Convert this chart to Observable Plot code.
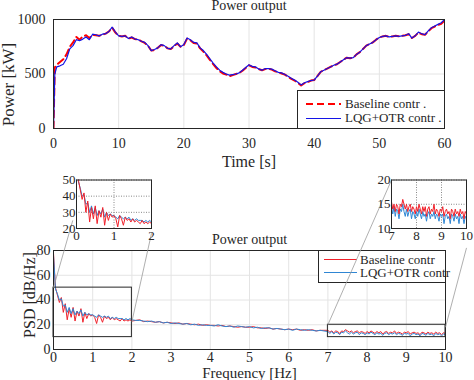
<!DOCTYPE html>
<html><head><meta charset="utf-8">
<script src="https://cdn.jsdelivr.net/npm/d3@7"></script>
<script src="https://cdn.jsdelivr.net/npm/@observablehq/plot@0.6"></script>
<style>
body{margin:0;background:#fff;}
#chart{position:relative;width:474px;height:380px;overflow:hidden;background:#fff;font-family:"Liberation Serif","Times New Roman",serif;}
#chart > svg{position:absolute;}
.legend{position:absolute;background:#fff;border:1px solid #262626;box-sizing:border-box;}
.legend svg{position:absolute;left:0;top:0;overflow:visible;}
</style></head><body><div id="chart"></div>
<script>
// ---------- top panel: power output time series ----------
const timeS = [0, 0.2, ...d3.range(1, 121).map(i => i * 0.5)];
const powerLQG = [0, 500,
 565, 575, 590, 640, 730, 760, 815, 805, 820, 840,
 815, 865, 860, 850, 865, 870, 890, 930, 885, 850,
 845, 850, 825, 840, 820, 815, 800, 790, 760, 715,
 725, 740, 770, 760, 735, 730, 760, 785, 750, 770,
 830, 815, 790, 785, 740, 715, 680, 640, 600, 565,
 535, 515, 500, 490, 495, 500, 510, 535, 560, 585,
 570, 565, 545, 535, 550, 550, 545, 530, 515, 510,
 495, 480, 460, 445, 425, 400, 420, 430, 440, 445,
 480, 520, 535, 550, 565, 580, 590, 610, 630, 650,
 645, 650, 680, 700, 730, 760, 775, 790, 815, 835,
 845, 850, 840, 845, 850, 845, 850, 855, 870, 830,
 850, 885, 870, 860, 895, 925, 940, 955, 970, 1000];
const powerBase = [0, 560,
 585, 610, 635, 680, 750, 790, 840, 815, 845, 855,
 830, 860, 855, 850, 860, 870, 890, 925, 880, 850,
 845, 850, 825, 835, 820, 815, 800, 785, 760, 715,
 720, 740, 765, 760, 735, 730, 755, 780, 750, 765,
 825, 810, 785, 780, 735, 705, 670, 630, 590, 555,
 525, 505, 495, 480, 490, 500, 510, 530, 555, 580,
 565, 560, 545, 535, 545, 550, 540, 525, 515, 505,
 495, 475, 455, 440, 420, 395, 415, 425, 440, 445,
 480, 520, 535, 550, 565, 580, 590, 610, 630, 650,
 645, 650, 680, 700, 730, 760, 775, 790, 815, 835,
 845, 850, 840, 845, 850, 845, 850, 855, 865, 830,
 850, 880, 865, 860, 890, 920, 935, 950, 960, 990];
const timeTicks = [0, 10, 20, 30, 40, 50, 60];
const powerTicks = [0, 500, 1000];

// ---------- bottom panel: PSD ----------
const freqHz = [
  ...d3.range(41).map(i => i * 0.05),
  ...d3.range(1, 50).map(i => 2 + i * 0.1),
  ...d3.range(61).map(i => 7 + i * 0.05)];
const psdBase = [
 78, 50, 44, 38, 42, 30, 37, 24, 33, 26,
 34, 23, 31, 27, 33, 22, 30, 25, 29, 27,
 28, 26, 21, 28, 26, 22, 27, 25, 26, 24,
 26, 24, 25, 24, 23, 25, 23, 24, 23, 24,
 23,
 23.5, 24, 22.5, 23, 22.5, 22, 22.5, 21.5, 22,
 21.5, 21, 21.5, 20.5, 21, 20.5, 20, 20.5, 19.5, 20,
 19.5, 19.5, 19, 19.5, 18.5, 19, 18.5, 18, 18.5, 18,
 18, 18.5, 17.5, 17.5, 17, 17.5, 16.5, 17, 16.5, 16,
 16.5, 16, 16.5, 15.5, 16, 15.5, 16, 15, 15.5, 15.5,
 15.5, 14, 15, 13.5, 15, 14.5, 13, 15, 14.5, 16,
 15, 14, 15, 13.5, 14.5, 15, 13.5, 14.5, 14, 13,
 14.5, 13.5, 15, 14, 13, 14.5, 13.5, 14.5, 12.5, 14,
 14.5, 13, 14, 13.5, 15, 13, 14, 13.5, 12.5, 14,
 13.5, 14.5, 12.5, 13.5, 14, 13, 13.5, 12, 14, 13.5,
 12.5, 14, 13, 13.5, 12.5, 14, 13, 13.5, 12, 13.5,
 13];
const psdLQG = [
 76, 49, 45, 40, 41, 35, 36, 30, 34, 29,
 33, 28, 31, 29, 32, 27, 30, 28, 29, 28,
 28, 27, 26, 28, 27, 26, 27, 26, 27, 25,
 26, 25, 26, 25, 25, 25, 24, 25, 24, 25,
 24,
 23.5, 23.5, 23, 22.5, 23, 22, 22.5, 21.5, 22,
 21, 21.5, 21, 20.5, 21, 20, 20.5, 19.5, 20, 19.5,
 19.5, 19, 20, 19, 18.5, 19, 18, 19, 18.5, 18,
 18.5, 17.5, 18, 17, 17.5, 17.5, 16.5, 17, 16.5, 16,
 16.5, 15.5, 16.5, 16, 15.5, 16, 15.5, 15, 15.5, 15,
 14.5, 13, 14.5, 12.5, 14, 13.5, 12, 14, 13.5, 15,
 13.5, 12.5, 14, 12.5, 13.5, 14, 12, 13.5, 13, 12,
 13.5, 12.5, 14, 13, 12, 13.5, 12.5, 13, 11.5, 13,
 13.5, 12, 13, 12.5, 13.5, 12, 13, 12.5, 11.5, 13,
 12.5, 13, 11, 12.5, 13, 12, 12.5, 11, 13, 12.5,
 11.5, 13, 12, 12.5, 11, 13, 12, 12.5, 11, 12.5,
 12];
const freqTicks = [0, 1, 2, 3, 4, 5, 6, 7, 8, 9, 10];
const psdTicks = [0, 20, 40, 60, 80];
const insetLxTicks = [0, 1, 2], insetLyTicks = [20, 30, 40, 50];
const insetRxTicks = [7, 8, 9, 10], insetRyTicks = [10, 15, 20];
const zoomX1 = [0, 7], zoomX2 = [2, 10], zoomY1 = [10, 10], zoomY2 = [50, 20];
// connector endpoints: [main plot point] -> [inset point]
const connMain = [[0, 50], [2, 22.5], [7, 20], [10, 18]];
const connInset = [[-0.1, 25], [2, 17], [7, 20], [10, 6]];
const connWhich = ["L", "L", "R", "R"];

const FONT = '"Liberation Serif","Times New Roman",serif';
const INK = "#262626";
const RED_T = "#ff0000", BLUE_T = "#1414e6";
const RED_P = "#f0202a", BLUE_P = "#2f86d3";
const fmt = d => String(d);

const powerData = timeS.map((t, i) => ({t, lqg: powerLQG[i], base: powerBase[i]}));
const psdData = freqHz.map((f, i) => ({f, base: psdBase[i], lqg: psdLQG[i]}));
const zoomBoxes = zoomX1.map((x, i) => ({x1: x, x2: zoomX2[i], y1: zoomY1[i], y2: zoomY2[i]}));

const chart = document.getElementById("chart");
const sty = (left, top, fs) => ({position: "absolute", left: left + "px", top: top + "px", background: "transparent",
  fontFamily: FONT, fontSize: fs + "px", color: INK, overflow: "visible"});
const label = (s, o) => Plot.text([s], {text: d => d, lineAnchor: "middle", textAnchor: "middle", fill: INK, ...o});

// top plot
const topPlot = Plot.plot({
  width: 474, height: 172, marginTop: 19, marginRight: 30, marginBottom: 44, marginLeft: 53,
  style: sty(0, 0, 14),
  x: {domain: [0, 60], ticks: timeTicks, tickSize: 0, tickPadding: 10, tickFormat: fmt, label: null},
  y: {domain: [0, 1000], ticks: powerTicks, tickSize: 0, tickPadding: 8, tickFormat: fmt, label: null},
  marks: [
    Plot.ruleX(timeTicks, {stroke: "#e4e4e4"}),
    Plot.ruleY(powerTicks, {stroke: "#e4e4e4"}),
    Plot.line(powerData, {x: "t", y: "base", stroke: RED_T, strokeWidth: 2, strokeDasharray: "7,4", clip: true}),
    Plot.line(powerData, {x: "t", y: "lqg", stroke: BLUE_T, strokeWidth: 1.2, clip: true}),
    Plot.frame({stroke: INK}),
    label("Power output", {frameAnchor: "top", dy: -13.5, fontSize: 14}),
    label("Time [s]", {frameAnchor: "bottom", dy: 33, fontSize: 16}),
    label("Power [kW]", {frameAnchor: "left", rotate: -90, dx: -45, dy: 10.5, fontSize: 17})
  ]
});
chart.appendChild(topPlot);

// bottom main plot
const psdPlot = Plot.plot({
  width: 474, height: 210, marginTop: 80, marginRight: 29, marginBottom: 31, marginLeft: 53,
  style: sty(0, 170, 14),
  x: {domain: [0, 10], ticks: freqTicks, tickSize: 0, tickPadding: 3, tickFormat: fmt, label: null},
  y: {domain: [0, 80], ticks: psdTicks, tickSize: 0, tickPadding: 3, tickFormat: fmt, label: null},
  marks: [
    Plot.ruleX(freqTicks, {stroke: "#e4e4e4"}),
    Plot.ruleY(psdTicks, {stroke: "#e4e4e4"}),
    Plot.line(psdData, {x: "f", y: "base", stroke: RED_P, strokeWidth: 1, clip: true}),
    Plot.line(psdData, {x: "f", y: "lqg", stroke: BLUE_P, strokeWidth: 1, clip: true}),
    Plot.rect(zoomBoxes, {x1: "x1", x2: "x2", y1: "y1", y2: "y2", fill: "none", stroke: INK}),
    Plot.frame({stroke: INK}),
    label("Power output", {frameAnchor: "top", dy: -10.5, fontSize: 14}),
    label("Frequency [Hz]", {frameAnchor: "bottom", dy: 23.5, fontSize: 15}),
    label("PSD [dB/Hz]", {frameAnchor: "left", rotate: -90, dx: -24, dy: -5, fontSize: 16})
  ]
});
chart.appendChild(psdPlot);

// legends (HTML boxes)
function legend(left, top, w, h, items, fs) {
  const div = document.createElement("div");
  div.className = "legend";
  Object.assign(div.style, {left: left + "px", top: top + "px", width: w + "px", height: h + "px"});
  const ns = "http://www.w3.org/2000/svg";
  const svg = document.createElementNS(ns, "svg");
  svg.setAttribute("width", w); svg.setAttribute("height", h);
  items.forEach(it => {
    const ln = document.createElementNS(ns, "line");
    ln.setAttribute("x1", it.lx1); ln.setAttribute("x2", it.lx2);
    ln.setAttribute("y1", it.ly); ln.setAttribute("y2", it.ly);
    ln.setAttribute("stroke", it.color); ln.setAttribute("stroke-width", it.sw);
    if (it.dash) ln.setAttribute("stroke-dasharray", it.dash);
    svg.appendChild(ln);
    const tx = document.createElementNS(ns, "text");
    tx.setAttribute("x", it.tx); tx.setAttribute("y", it.ty);
    tx.setAttribute("font-family", FONT); tx.setAttribute("font-size", fs);
    tx.setAttribute("fill", INK);
    tx.textContent = it.label;
    svg.appendChild(tx);
  });
  div.appendChild(svg);
  chart.appendChild(div);
}
const legTopLabels = ["Baseline contr .", "LQG+OTR contr ."];
const legBotLabels = ["Baseline contr", "LQG+OTR contr"];
legend(297, 90, 148, 39, [
  {label: legTopLabels[0], color: RED_T, sw: 2, dash: "7,4", lx1: 8, lx2: 43, ly: 13, tx: 47, ty: 17},
  {label: legTopLabels[1], color: BLUE_T, sw: 1.2, lx1: 8, lx2: 43, ly: 27.5, tx: 47, ty: 31}
], 13);
legend(318, 250, 128, 33, [
  {label: legBotLabels[0], color: RED_P, sw: 1.2, lx1: 5, lx2: 38, ly: 8.5, tx: 41, ty: 13},
  {label: legBotLabels[1], color: BLUE_P, sw: 1.2, lx1: 5, lx2: 38, ly: 21.5, tx: 41, ty: 26}
], 13);

// insets
const insetL = {left: 40, top: 168};
const insetR = {left: 350, top: 168};
function inset(pos, w, mL, mR, xd, yd, xt, yt, order) {
  const data = psdData.filter(d => d.f >= xd[0] - 0.06 && d.f <= xd[1] + 0.06);
  const lines = {
    base: Plot.line(data, {x: "f", y: "base", stroke: RED_P, strokeWidth: 1, clip: true}),
    lqg: Plot.line(data, {x: "f", y: "lqg", stroke: BLUE_P, strokeWidth: 1, clip: true})
  };
  return Plot.plot({
    width: w, height: 76, marginTop: 11.5, marginBottom: 16, marginLeft: mL, marginRight: mR,
    style: sty(pos.left, pos.top, 13),
    x: {domain: xd, ticks: xt, tickSize: 0, tickPadding: 2, tickFormat: fmt, label: null},
    y: {domain: yd, ticks: yt, tickSize: 0, tickPadding: 1, tickFormat: fmt, label: null},
    marks: [
      Plot.frame({fill: "#fff"}),
      Plot.ruleX(xt, {stroke: "#888", strokeDasharray: "1,1.5"}),
      Plot.ruleY(yt, {stroke: "#888", strokeDasharray: "1,1.5"}),
      ...order.map(k => lines[k]),
      Plot.frame({stroke: INK})
    ]
  });
}
const plotL = inset(insetL, 120, 36, 9, [0, 2], [20, 50], insetLxTicks, insetLyTicks, ["lqg", "base"]);
const plotR = inset(insetR, 124, 41, 8, [7, 10], [10, 20], insetRxTicks, insetRyTicks, ["lqg", "base"]);

// connectors overlay, computed from the plots' scales
const mx = psdPlot.scale("x"), my = psdPlot.scale("y");
const links = connMain.map((m, i) => {
  const ip = connWhich[i] === "L" ? plotL : plotR;
  const pos = connWhich[i] === "L" ? insetL : insetR;
  return {
    x1: mx.apply(m[0]), y1: 170 + my.apply(m[1]),
    x2: pos.left + ip.scale("x").apply(connInset[i][0]),
    y2: pos.top + ip.scale("y").apply(connInset[i][1])
  };
});
const overlay = Plot.plot({
  width: 474, height: 380, margin: 0,
  style: sty(0, 0, 10),
  x: {type: "identity", axis: null},
  y: {type: "identity", axis: null},
  marks: [Plot.link(links, {x1: "x1", y1: "y1", x2: "x2", y2: "y2", stroke: "#9a9a9a", strokeWidth: 0.8})]
});
overlay.style.pointerEvents = "none";
chart.appendChild(overlay);
chart.appendChild(plotL);
chart.appendChild(plotR);
</script>
</body></html>
